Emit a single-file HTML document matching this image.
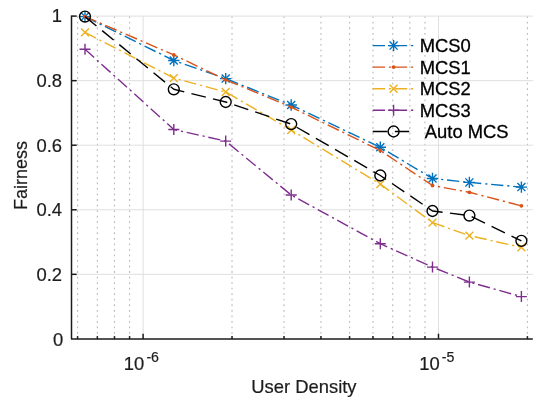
<!DOCTYPE html>
<html lang="en"><head><meta charset="utf-8"><title>Fairness vs User Density</title>
<style>html,body{margin:0;padding:0;background:#fff}body{width:550px;height:405px;overflow:hidden}svg{display:block}</style>
</head><body>
<svg width="550" height="405" viewBox="0 0 550 405">
<rect width="550" height="405" fill="#fff"/>
<g stroke="#bcbcbc" stroke-width="1.15" stroke-dasharray="1.8 3.74" fill="none">
<line x1="77.57" y1="339.4" x2="77.57" y2="16.1"/>
<line x1="97.34" y1="339.4" x2="97.34" y2="16.1"/>
<line x1="114.47" y1="339.4" x2="114.47" y2="16.1"/>
<line x1="129.58" y1="339.4" x2="129.58" y2="16.1"/>
<line x1="232.02" y1="339.4" x2="232.02" y2="16.1"/>
<line x1="284.04" y1="339.4" x2="284.04" y2="16.1"/>
<line x1="320.95" y1="339.4" x2="320.95" y2="16.1"/>
<line x1="349.58" y1="339.4" x2="349.58" y2="16.1"/>
<line x1="372.97" y1="339.4" x2="372.97" y2="16.1"/>
<line x1="392.74" y1="339.4" x2="392.74" y2="16.1"/>
<line x1="409.87" y1="339.4" x2="409.87" y2="16.1"/>
<line x1="424.98" y1="339.4" x2="424.98" y2="16.1"/>
<line x1="527.42" y1="339.4" x2="527.42" y2="16.1"/>
</g>
<g stroke="#dfdfdf" stroke-width="1" fill="none">
<line x1="71.5" y1="274.34" x2="532.8" y2="274.34"/>
<line x1="71.5" y1="209.78" x2="532.8" y2="209.78"/>
<line x1="71.5" y1="145.22" x2="532.8" y2="145.22"/>
<line x1="71.5" y1="80.66" x2="532.8" y2="80.66"/>
<line x1="71.5" y1="16.10" x2="532.8" y2="16.10"/>
<line x1="143.10" y1="338.9" x2="143.10" y2="16.1"/>
<line x1="438.50" y1="338.9" x2="438.50" y2="16.1"/>
</g>
<polyline points="85.00,16.60 173.80,60.50 225.70,78.60 291.20,105.00 380.30,147.30 432.50,178.50 469.40,182.40 521.40,187.10" fill="none" stroke="#0072BD" stroke-width="1.4" stroke-dasharray="12.3 3.9 2.2 3.75" stroke-linejoin="round"/>
<path d="M79.30 16.60H90.70M85.00 10.90V22.30M80.97 12.57L89.03 20.63M80.97 20.63L89.03 12.57" stroke="#0072BD" stroke-width="1.4" fill="none"/>
<path d="M168.10 60.50H179.50M173.80 54.80V66.20M169.77 56.47L177.83 64.53M169.77 64.53L177.83 56.47" stroke="#0072BD" stroke-width="1.4" fill="none"/>
<path d="M220.00 78.60H231.40M225.70 72.90V84.30M221.67 74.57L229.73 82.63M221.67 82.63L229.73 74.57" stroke="#0072BD" stroke-width="1.4" fill="none"/>
<path d="M285.50 105.00H296.90M291.20 99.30V110.70M287.17 100.97L295.23 109.03M287.17 109.03L295.23 100.97" stroke="#0072BD" stroke-width="1.4" fill="none"/>
<path d="M374.60 147.30H386.00M380.30 141.60V153.00M376.27 143.27L384.33 151.33M376.27 151.33L384.33 143.27" stroke="#0072BD" stroke-width="1.4" fill="none"/>
<path d="M426.80 178.50H438.20M432.50 172.80V184.20M428.47 174.47L436.53 182.53M428.47 182.53L436.53 174.47" stroke="#0072BD" stroke-width="1.4" fill="none"/>
<path d="M463.70 182.40H475.10M469.40 176.70V188.10M465.37 178.37L473.43 186.43M465.37 186.43L473.43 178.37" stroke="#0072BD" stroke-width="1.4" fill="none"/>
<path d="M515.70 187.10H527.10M521.40 181.40V192.80M517.37 183.07L525.43 191.13M517.37 191.13L525.43 183.07" stroke="#0072BD" stroke-width="1.4" fill="none"/>
<polyline points="85.00,16.60 173.80,54.90 225.70,79.80 291.20,107.10 380.30,150.50 432.50,185.50 469.40,192.30 521.40,205.80" fill="none" stroke="#D95319" stroke-width="1.4" stroke-dasharray="12.3 3.9 2.2 3.75" stroke-linejoin="round"/>
<circle cx="85.00" cy="16.60" r="1.9" fill="#D95319"/>
<circle cx="173.80" cy="54.90" r="1.9" fill="#D95319"/>
<circle cx="225.70" cy="79.80" r="1.9" fill="#D95319"/>
<circle cx="291.20" cy="107.10" r="1.9" fill="#D95319"/>
<circle cx="380.30" cy="150.50" r="1.9" fill="#D95319"/>
<circle cx="432.50" cy="185.50" r="1.9" fill="#D95319"/>
<circle cx="469.40" cy="192.30" r="1.9" fill="#D95319"/>
<circle cx="521.40" cy="205.80" r="1.9" fill="#D95319"/>
<polyline points="85.00,32.40 173.80,78.10 225.70,92.00 291.20,130.00 380.30,184.10 432.50,222.60 469.40,235.60 521.40,247.40" fill="none" stroke="#EDB120" stroke-width="1.4" stroke-dasharray="12.3 3.9 2.2 3.75" stroke-linejoin="round"/>
<path d="M81.05 28.45L88.95 36.35M81.05 36.35L88.95 28.45" stroke="#EDB120" stroke-width="1.4" fill="none"/>
<path d="M169.85 74.15L177.75 82.05M169.85 82.05L177.75 74.15" stroke="#EDB120" stroke-width="1.4" fill="none"/>
<path d="M221.75 88.05L229.65 95.95M221.75 95.95L229.65 88.05" stroke="#EDB120" stroke-width="1.4" fill="none"/>
<path d="M287.25 126.05L295.15 133.95M287.25 133.95L295.15 126.05" stroke="#EDB120" stroke-width="1.4" fill="none"/>
<path d="M376.35 180.15L384.25 188.05M376.35 188.05L384.25 180.15" stroke="#EDB120" stroke-width="1.4" fill="none"/>
<path d="M428.55 218.65L436.45 226.55M428.55 226.55L436.45 218.65" stroke="#EDB120" stroke-width="1.4" fill="none"/>
<path d="M465.45 231.65L473.35 239.55M465.45 239.55L473.35 231.65" stroke="#EDB120" stroke-width="1.4" fill="none"/>
<path d="M517.45 243.45L525.35 251.35M517.45 251.35L525.35 243.45" stroke="#EDB120" stroke-width="1.4" fill="none"/>
<polyline points="85.00,49.30 173.80,129.50 225.70,141.10 291.20,195.00 380.30,243.70 432.50,267.10 469.40,282.10 521.40,296.60" fill="none" stroke="#7E2F8E" stroke-width="1.4" stroke-dasharray="12.3 3.9 2.2 3.75" stroke-linejoin="round"/>
<path d="M79.50 49.30H90.50M85.00 43.80V54.80" stroke="#7E2F8E" stroke-width="1.4" fill="none"/>
<path d="M168.30 129.50H179.30M173.80 124.00V135.00" stroke="#7E2F8E" stroke-width="1.4" fill="none"/>
<path d="M220.20 141.10H231.20M225.70 135.60V146.60" stroke="#7E2F8E" stroke-width="1.4" fill="none"/>
<path d="M285.70 195.00H296.70M291.20 189.50V200.50" stroke="#7E2F8E" stroke-width="1.4" fill="none"/>
<path d="M374.80 243.70H385.80M380.30 238.20V249.20" stroke="#7E2F8E" stroke-width="1.4" fill="none"/>
<path d="M427.00 267.10H438.00M432.50 261.60V272.60" stroke="#7E2F8E" stroke-width="1.4" fill="none"/>
<path d="M463.90 282.10H474.90M469.40 276.60V287.60" stroke="#7E2F8E" stroke-width="1.4" fill="none"/>
<path d="M515.90 296.60H526.90M521.40 291.10V302.10" stroke="#7E2F8E" stroke-width="1.4" fill="none"/>
<polyline points="85.00,16.60 173.80,89.30 225.70,102.00 291.20,124.10 380.30,175.50 432.50,211.00 469.40,215.60 521.40,240.80" fill="none" stroke="#000000" stroke-width="1.4" stroke-dasharray="14.8 7.35" stroke-linejoin="round"/>
<circle cx="85.00" cy="16.60" r="5.45" stroke="#000000" stroke-width="1.4" fill="none"/>
<circle cx="173.80" cy="89.30" r="5.45" stroke="#000000" stroke-width="1.4" fill="none"/>
<circle cx="225.70" cy="102.00" r="5.45" stroke="#000000" stroke-width="1.4" fill="none"/>
<circle cx="291.20" cy="124.10" r="5.45" stroke="#000000" stroke-width="1.4" fill="none"/>
<circle cx="380.30" cy="175.50" r="5.45" stroke="#000000" stroke-width="1.4" fill="none"/>
<circle cx="432.50" cy="211.00" r="5.45" stroke="#000000" stroke-width="1.4" fill="none"/>
<circle cx="469.40" cy="215.60" r="5.45" stroke="#000000" stroke-width="1.4" fill="none"/>
<circle cx="521.40" cy="240.80" r="5.45" stroke="#000000" stroke-width="1.4" fill="none"/>
<g stroke="#1c1c1c" stroke-width="1.5" fill="none">
<path d="M71.5 15.600000000000001V338.9M71.0 338.9H532.8"/>
<line x1="71.5" y1="274.34" x2="76.7" y2="274.34"/>
<line x1="71.5" y1="209.78" x2="76.7" y2="209.78"/>
<line x1="71.5" y1="145.22" x2="76.7" y2="145.22"/>
<line x1="71.5" y1="80.66" x2="76.7" y2="80.66"/>
<line x1="71.5" y1="16.10" x2="76.7" y2="16.10"/>
<line x1="143.10" y1="338.9" x2="143.10" y2="333.7"/>
<line x1="438.50" y1="338.9" x2="438.50" y2="333.7"/>
<line x1="77.57" y1="338.9" x2="77.57" y2="336.09999999999997"/>
<line x1="97.34" y1="338.9" x2="97.34" y2="336.09999999999997"/>
<line x1="114.47" y1="338.9" x2="114.47" y2="336.09999999999997"/>
<line x1="129.58" y1="338.9" x2="129.58" y2="336.09999999999997"/>
<line x1="232.02" y1="338.9" x2="232.02" y2="336.09999999999997"/>
<line x1="284.04" y1="338.9" x2="284.04" y2="336.09999999999997"/>
<line x1="320.95" y1="338.9" x2="320.95" y2="336.09999999999997"/>
<line x1="349.58" y1="338.9" x2="349.58" y2="336.09999999999997"/>
<line x1="372.97" y1="338.9" x2="372.97" y2="336.09999999999997"/>
<line x1="392.74" y1="338.9" x2="392.74" y2="336.09999999999997"/>
<line x1="409.87" y1="338.9" x2="409.87" y2="336.09999999999997"/>
<line x1="424.98" y1="338.9" x2="424.98" y2="336.09999999999997"/>
<line x1="527.42" y1="338.9" x2="527.42" y2="336.09999999999997"/>
</g>
<g font-family="'Liberation Sans', Arial, Helvetica, sans-serif" font-size="18.4" fill="#1c1c1c" stroke="#1c1c1c" stroke-width="0.2">
<text x="63.2" y="345.65" text-anchor="end">0</text>
<text x="62" y="280.69" text-anchor="end">0.2</text>
<text x="62" y="216.13" text-anchor="end">0.4</text>
<text x="62" y="151.57" text-anchor="end">0.6</text>
<text x="62" y="87.01" text-anchor="end">0.8</text>
<text x="62" y="22.45" text-anchor="end">1</text>
<text x="123.80" y="369.6">10</text><text x="146.40" y="361.9" font-size="14.2">-6</text>
<text x="419.20" y="369.6">10</text><text x="441.80" y="361.9" font-size="14.2">-5</text>
<text x="303.9" y="392.5" text-anchor="middle" >User Density</text>
<text transform="translate(26.6 175.4) rotate(-90)" text-anchor="middle" font-size="18">Fairness</text>
</g>
<g font-family="'Liberation Sans', Arial, Helvetica, sans-serif" font-size="18.4" fill="#000">
<line x1="372.7" y1="45.6" x2="414.2" y2="45.6" stroke="#0072BD" stroke-width="1.4" stroke-dasharray="12.3 3.9 2.2 3.75"/>
<path d="M387.90 45.60H399.30M393.60 39.90V51.30M389.57 41.57L397.63 49.63M389.57 49.63L397.63 41.57" stroke="#0072BD" stroke-width="1.4" fill="none"/>
<text x="419.7" y="52.00" stroke="#000" stroke-width="0.3" xml:space="preserve">MCS0</text>
<line x1="372.7" y1="67.1" x2="414.2" y2="67.1" stroke="#D95319" stroke-width="1.4" stroke-dasharray="12.3 3.9 2.2 3.75"/>
<circle cx="393.60" cy="67.10" r="1.9" fill="#D95319"/>
<text x="419.7" y="73.50" stroke="#000" stroke-width="0.3" xml:space="preserve">MCS1</text>
<line x1="372.7" y1="88.7" x2="414.2" y2="88.7" stroke="#EDB120" stroke-width="1.4" stroke-dasharray="12.3 3.9 2.2 3.75"/>
<path d="M389.65 84.75L397.55 92.65M389.65 92.65L397.55 84.75" stroke="#EDB120" stroke-width="1.4" fill="none"/>
<text x="419.7" y="95.10" stroke="#000" stroke-width="0.3" xml:space="preserve">MCS2</text>
<line x1="372.7" y1="110.2" x2="414.2" y2="110.2" stroke="#7E2F8E" stroke-width="1.4" stroke-dasharray="12.3 3.9 2.2 3.75"/>
<path d="M388.10 110.20H399.10M393.60 104.70V115.70" stroke="#7E2F8E" stroke-width="1.4" fill="none"/>
<text x="419.7" y="116.60" stroke="#000" stroke-width="0.3" xml:space="preserve">MCS3</text>
<line x1="372.7" y1="131.5" x2="409.2" y2="131.5" stroke="#000000" stroke-width="1.4" stroke-dasharray="14.8 7.35"/>
<circle cx="393.60" cy="131.50" r="5.45" stroke="#000000" stroke-width="1.4" fill="none"/>
<text x="419.7" y="137.90" stroke="#000" stroke-width="0.3" xml:space="preserve"> Auto MCS</text>
</g>
</svg>
</body></html>
